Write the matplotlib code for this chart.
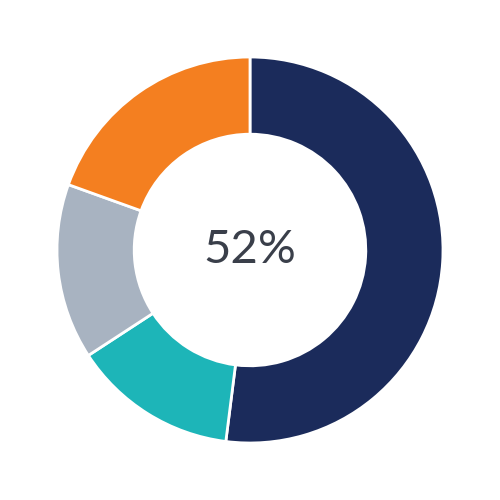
import matplotlib.pyplot as plt

# slice shares (%) clockwise from top
labels = ['A', 'B', 'C', 'D']
values = [52, 13.8, 14.7, 19.5]
colors = ['#1b2b5b', '#1db5b8', '#a8b3c1', '#f47f20']
center_text = '52%'

fig = plt.figure(figsize=(5, 5), dpi=100)
ax = fig.add_axes([0, 0, 1, 1])
ax.pie(values, colors=colors, startangle=90, counterclock=False,
       radius=1, wedgeprops=dict(width=0.4, edgecolor='white', linewidth=2))
ax.text(0, 0, center_text, ha='center', va='center', fontsize=34,
        color='#3a3f4a', family=['Lato', 'DejaVu Sans'])
lim = 250 / 193
ax.set_xlim(-lim, lim)
ax.set_ylim(-lim, lim)
ax.set_aspect('equal')
ax.axis('off')
fig.savefig('out.png', dpi=100, facecolor='white')
